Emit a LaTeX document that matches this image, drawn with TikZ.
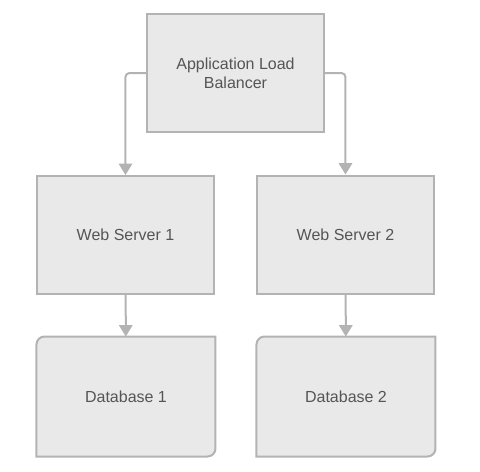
\documentclass[tikz,border=0pt]{standalone}
\usepackage{fontspec}
\setmainfont{Liberation Sans}
\usetikzlibrary{arrows.meta}
\definecolor{boxfill}{HTML}{E9E9E9}
\definecolor{boxline}{HTML}{B3B3B3}
\definecolor{boxtext}{HTML}{555555}
\tikzset{
  srvbox/.style={draw=boxline, fill=boxfill, line width=1.5pt, inner sep=0pt,
    minimum width=132.75pt, minimum height=88.5pt, text=boxtext, align=center,
    font=\fontsize{12}{14.5}\selectfont},
  dbbox/.style={srvbox, draw=none, fill=none},
  flow/.style={draw=boxline, line width=1.5pt, rounded corners=3pt,
    -{Triangle[length=8.5pt,width=10pt]}}
}
\begin{document}
\begin{tikzpicture}[x=0.75pt,y=-0.75pt]
\useasboundingbox (0,0) rectangle (480,472);

\node[srvbox] (alb) at (235.5,73) {Application Load\\Balancer};
\node[srvbox] (ws1) at (125.5,235) {Web Server 1};
\node[srvbox] (ws2) at (345.5,234.5) {Web Server 2};

% databases: rounded top left and bottom right corners
\foreach \n/\x/\t in {db1/126/Database 1, db2/346/Database 2}{
  \node[dbbox] (\n) at (\x,396.5) {};
  \filldraw[draw=boxline, fill=boxfill, line width=1.5pt]
    (\n.south west) -- ([yshift=-6pt]\n.north west)
    arc[start angle=180, end angle=90, radius=6pt]
    -- (\n.north east) -- ([yshift=6pt]\n.south east)
    arc[start angle=0, end angle=-90, radius=6pt] -- cycle;
  \node[text=boxtext, font=\fontsize{12}{14.5}\selectfont] at (\n) {\t};
}

\draw[flow] (alb.west) -| (ws1.north);
\draw[flow] (alb.east) -| (ws2.north);
\draw[flow] (ws1) -- (db1);
\draw[flow] (ws2) -- (db2);

\end{tikzpicture}
\end{document}
